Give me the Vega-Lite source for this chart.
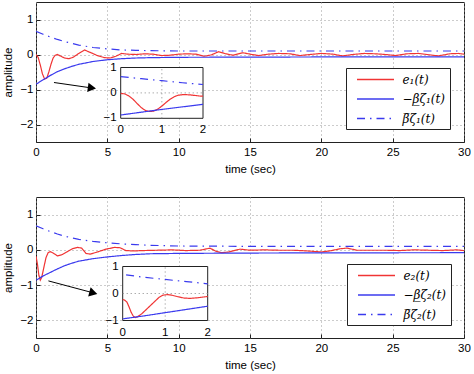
{
  "$schema": "https://vega.github.io/schema/vega-lite/v6.json",
  "padding": {"left": 2, "top": 1, "right": 0, "bottom": 0},
  "background": "white",
  "spacing": 20,
  "config": {
    "view": {"stroke": "#222", "strokeWidth": 1},
    "font": "Liberation Sans",
    "axis": {
      "labelFont": "Liberation Sans", "labelFontSize": 11.5, "labelColor": "black", "labelOverlap": false, "labelFlush": false, "labelBound": false,
      "titleFont": "Liberation Sans", "titleFontSize": 11.5, "titleFontWeight": "normal", "titleColor": "black",
      "domain": false, "ticks": true, "tickSize": -4, "tickColor": "#222",
      "grid": true, "gridColor": "#999", "gridDash": [1, 3], "gridOpacity": 1
    },
    "legend": {
      "strokeColor": "#222", "fillColor": "white", "padding": 4.5, "symbolType": "M-3,0H3", "symbolSize": 152, "symbolStrokeWidth": 1.3,
      "symbolFillColor": "transparent", "symbolOffset": 18, "labelOffset": 20, "labelFont": "DejaVu Serif", "labelFontStyle": "italic",
      "labelFontSize": 12, "labelColor": "black", "rowPadding": 6.5
    }
  },
  "datasets": {
    "main1": [
      {"t": 0, "v": 0.0, "s": "e₁(t)"}, {"t": 0.15, "v": -0.08, "s": "e₁(t)"}, {"t": 0.3, "v": -0.3, "s": "e₁(t)"}, {"t": 0.45, "v": -0.55, "s": "e₁(t)"}, {"t": 0.6, "v": -0.7, "s": "e₁(t)"}, {"t": 0.75, "v": -0.68, "s": "e₁(t)"}, {"t": 0.9, "v": -0.5, "s": "e₁(t)"}, {"t": 1.05, "v": -0.28, "s": "e₁(t)"}, {"t": 1.2, "v": -0.1, "s": "e₁(t)"}, {"t": 1.35, "v": -0.02, "s": "e₁(t)"}, {"t": 1.5, "v": 0.0, "s": "e₁(t)"}, {"t": 1.7, "v": -0.04, "s": "e₁(t)"}, {"t": 2.0, "v": -0.1, "s": "e₁(t)"}, {"t": 2.3, "v": -0.12, "s": "e₁(t)"}, {"t": 2.6, "v": -0.08, "s": "e₁(t)"}, {"t": 3.0, "v": 0.03, "s": "e₁(t)"}, {"t": 3.4, "v": 0.13, "s": "e₁(t)"}, {"t": 3.8, "v": 0.06, "s": "e₁(t)"}, {"t": 4.3, "v": -0.03, "s": "e₁(t)"}, {"t": 4.8, "v": -0.09, "s": "e₁(t)"}, {"t": 5.2, "v": -0.1, "s": "e₁(t)"}, {"t": 5.6, "v": -0.05, "s": "e₁(t)"}, {"t": 6.0, "v": 0.03, "s": "e₁(t)"}, {"t": 6.4, "v": 0.01, "s": "e₁(t)"}, {"t": 7.0, "v": 0.0, "s": "e₁(t)"}, {"t": 7.6, "v": 0.02, "s": "e₁(t)"}, {"t": 8.2, "v": 0.01, "s": "e₁(t)"}, {"t": 8.8, "v": -0.03, "s": "e₁(t)"}, {"t": 9.4, "v": -0.02, "s": "e₁(t)"}, {"t": 10.0, "v": 0.01, "s": "e₁(t)"}, {"t": 10.6, "v": 0.02, "s": "e₁(t)"}, {"t": 11.2, "v": 0.01, "s": "e₁(t)"}, {"t": 11.8, "v": -0.05, "s": "e₁(t)"}, {"t": 12.3, "v": -0.01, "s": "e₁(t)"}, {"t": 12.8, "v": 0.08, "s": "e₁(t)"}, {"t": 13.3, "v": 0.02, "s": "e₁(t)"}, {"t": 13.8, "v": -0.02, "s": "e₁(t)"}, {"t": 14.5, "v": 0.05, "s": "e₁(t)"}, {"t": 15.0, "v": 0.01, "s": "e₁(t)"}, {"t": 15.6, "v": -0.03, "s": "e₁(t)"}, {"t": 16.3, "v": 0.01, "s": "e₁(t)"}, {"t": 17.0, "v": 0.03, "s": "e₁(t)"}, {"t": 17.8, "v": 0.02, "s": "e₁(t)"}, {"t": 18.5, "v": -0.03, "s": "e₁(t)"}, {"t": 19.2, "v": 0.0, "s": "e₁(t)"}, {"t": 20.0, "v": 0.03, "s": "e₁(t)"}, {"t": 20.8, "v": 0.01, "s": "e₁(t)"}, {"t": 21.5, "v": -0.04, "s": "e₁(t)"}, {"t": 22.2, "v": 0.0, "s": "e₁(t)"}, {"t": 23.0, "v": 0.03, "s": "e₁(t)"}, {"t": 23.8, "v": 0.02, "s": "e₁(t)"}, {"t": 24.5, "v": 0.0, "s": "e₁(t)"}, {"t": 25.2, "v": -0.03, "s": "e₁(t)"}, {"t": 26.0, "v": 0.02, "s": "e₁(t)"}, {"t": 26.8, "v": 0.03, "s": "e₁(t)"}, {"t": 27.6, "v": -0.01, "s": "e₁(t)"}, {"t": 28.2, "v": -0.04, "s": "e₁(t)"}, {"t": 29.0, "v": 0.02, "s": "e₁(t)"}, {"t": 29.6, "v": 0.03, "s": "e₁(t)"}, {"t": 30, "v": 0.01, "s": "e₁(t)"},
      {"t": 0, "v": -0.85, "s": "−β̲ζ₁(t)"}, {"t": 0.5, "v": -0.72, "s": "−β̲ζ₁(t)"}, {"t": 1, "v": -0.6, "s": "−β̲ζ₁(t)"}, {"t": 1.5, "v": -0.49, "s": "−β̲ζ₁(t)"}, {"t": 2, "v": -0.41, "s": "−β̲ζ₁(t)"}, {"t": 2.5, "v": -0.34, "s": "−β̲ζ₁(t)"}, {"t": 3, "v": -0.28, "s": "−β̲ζ₁(t)"}, {"t": 4, "v": -0.2, "s": "−β̲ζ₁(t)"}, {"t": 5, "v": -0.15, "s": "−β̲ζ₁(t)"}, {"t": 6, "v": -0.12, "s": "−β̲ζ₁(t)"}, {"t": 7, "v": -0.1, "s": "−β̲ζ₁(t)"}, {"t": 8, "v": -0.09, "s": "−β̲ζ₁(t)"}, {"t": 10, "v": -0.08, "s": "−β̲ζ₁(t)"}, {"t": 15, "v": -0.075, "s": "−β̲ζ₁(t)"}, {"t": 20, "v": -0.07, "s": "−β̲ζ₁(t)"}, {"t": 30, "v": -0.07, "s": "−β̲ζ₁(t)"},
      {"t": 0, "v": 0.66, "s": "β̅ζ₁(t)"}, {"t": 0.5, "v": 0.58, "s": "β̅ζ₁(t)"}, {"t": 1, "v": 0.5, "s": "β̅ζ₁(t)"}, {"t": 1.5, "v": 0.43, "s": "β̅ζ₁(t)"}, {"t": 2, "v": 0.37, "s": "β̅ζ₁(t)"}, {"t": 2.5, "v": 0.32, "s": "β̅ζ₁(t)"}, {"t": 3, "v": 0.27, "s": "β̅ζ₁(t)"}, {"t": 4, "v": 0.2, "s": "β̅ζ₁(t)"}, {"t": 5, "v": 0.16, "s": "β̅ζ₁(t)"}, {"t": 6, "v": 0.13, "s": "β̅ζ₁(t)"}, {"t": 7, "v": 0.12, "s": "β̅ζ₁(t)"}, {"t": 8, "v": 0.11, "s": "β̅ζ₁(t)"}, {"t": 10, "v": 0.1, "s": "β̅ζ₁(t)"}, {"t": 15, "v": 0.1, "s": "β̅ζ₁(t)"}, {"t": 30, "v": 0.1, "s": "β̅ζ₁(t)"}
    ],
    "inset1": [
      {"t": 0, "v": -0.02, "s": "e₁(t)"}, {"t": 0.1, "v": -0.04, "s": "e₁(t)"}, {"t": 0.2, "v": -0.12, "s": "e₁(t)"}, {"t": 0.3, "v": -0.25, "s": "e₁(t)"}, {"t": 0.4, "v": -0.42, "s": "e₁(t)"}, {"t": 0.5, "v": -0.58, "s": "e₁(t)"}, {"t": 0.6, "v": -0.69, "s": "e₁(t)"}, {"t": 0.7, "v": -0.73, "s": "e₁(t)"}, {"t": 0.8, "v": -0.72, "s": "e₁(t)"}, {"t": 0.9, "v": -0.64, "s": "e₁(t)"}, {"t": 1.0, "v": -0.52, "s": "e₁(t)"}, {"t": 1.1, "v": -0.38, "s": "e₁(t)"}, {"t": 1.2, "v": -0.25, "s": "e₁(t)"}, {"t": 1.3, "v": -0.15, "s": "e₁(t)"}, {"t": 1.4, "v": -0.09, "s": "e₁(t)"}, {"t": 1.5, "v": -0.07, "s": "e₁(t)"}, {"t": 1.6, "v": -0.07, "s": "e₁(t)"}, {"t": 1.7, "v": -0.08, "s": "e₁(t)"}, {"t": 1.8, "v": -0.1, "s": "e₁(t)"}, {"t": 1.9, "v": -0.12, "s": "e₁(t)"}, {"t": 2.0, "v": -0.13, "s": "e₁(t)"},
      {"t": 0, "v": -0.87, "s": "−β̲ζ₁(t)"}, {"t": 0.5, "v": -0.76, "s": "−β̲ζ₁(t)"}, {"t": 1, "v": -0.65, "s": "−β̲ζ₁(t)"}, {"t": 1.5, "v": -0.55, "s": "−β̲ζ₁(t)"}, {"t": 2, "v": -0.45, "s": "−β̲ζ₁(t)"},
      {"t": 0, "v": 0.64, "s": "β̅ζ₁(t)"}, {"t": 0.5, "v": 0.56, "s": "β̅ζ₁(t)"}, {"t": 1, "v": 0.48, "s": "β̅ζ₁(t)"}, {"t": 1.5, "v": 0.4, "s": "β̅ζ₁(t)"}, {"t": 2, "v": 0.33, "s": "β̅ζ₁(t)"}
    ],
    "main2": [
      {"t": 0, "v": -0.18, "s": "e₂(t)"}, {"t": 0.1, "v": -0.4, "s": "e₂(t)"}, {"t": 0.2, "v": -0.72, "s": "e₂(t)"}, {"t": 0.3, "v": -0.86, "s": "e₂(t)"}, {"t": 0.4, "v": -0.78, "s": "e₂(t)"}, {"t": 0.55, "v": -0.5, "s": "e₂(t)"}, {"t": 0.7, "v": -0.22, "s": "e₂(t)"}, {"t": 0.85, "v": -0.08, "s": "e₂(t)"}, {"t": 1.0, "v": -0.05, "s": "e₂(t)"}, {"t": 1.2, "v": -0.09, "s": "e₂(t)"}, {"t": 1.5, "v": -0.17, "s": "e₂(t)"}, {"t": 1.8, "v": -0.14, "s": "e₂(t)"}, {"t": 2.2, "v": -0.05, "s": "e₂(t)"}, {"t": 2.6, "v": 0.04, "s": "e₂(t)"}, {"t": 2.9, "v": 0.07, "s": "e₂(t)"}, {"t": 3.2, "v": 0.05, "s": "e₂(t)"}, {"t": 3.5, "v": -0.1, "s": "e₂(t)"}, {"t": 3.8, "v": -0.12, "s": "e₂(t)"}, {"t": 4.3, "v": -0.06, "s": "e₂(t)"}, {"t": 4.9, "v": 0.02, "s": "e₂(t)"}, {"t": 5.5, "v": 0.07, "s": "e₂(t)"}, {"t": 5.9, "v": 0.06, "s": "e₂(t)"}, {"t": 6.3, "v": -0.02, "s": "e₂(t)"}, {"t": 6.8, "v": -0.03, "s": "e₂(t)"}, {"t": 7.5, "v": -0.02, "s": "e₂(t)"}, {"t": 8.5, "v": -0.01, "s": "e₂(t)"}, {"t": 9.5, "v": 0.0, "s": "e₂(t)"}, {"t": 10.5, "v": -0.02, "s": "e₂(t)"}, {"t": 11.5, "v": -0.01, "s": "e₂(t)"}, {"t": 12.2, "v": 0.05, "s": "e₂(t)"}, {"t": 12.6, "v": -0.04, "s": "e₂(t)"}, {"t": 13.0, "v": -0.08, "s": "e₂(t)"}, {"t": 13.5, "v": -0.06, "s": "e₂(t)"}, {"t": 14.3, "v": 0.02, "s": "e₂(t)"}, {"t": 15.0, "v": -0.01, "s": "e₂(t)"}, {"t": 16.0, "v": 0.0, "s": "e₂(t)"}, {"t": 17.0, "v": -0.01, "s": "e₂(t)"}, {"t": 18.0, "v": -0.01, "s": "e₂(t)"}, {"t": 19.0, "v": -0.03, "s": "e₂(t)"}, {"t": 20.0, "v": -0.06, "s": "e₂(t)"}, {"t": 20.6, "v": -0.03, "s": "e₂(t)"}, {"t": 21.3, "v": 0.03, "s": "e₂(t)"}, {"t": 21.8, "v": 0.05, "s": "e₂(t)"}, {"t": 22.5, "v": -0.01, "s": "e₂(t)"}, {"t": 23.5, "v": -0.01, "s": "e₂(t)"}, {"t": 24.5, "v": -0.01, "s": "e₂(t)"}, {"t": 25.5, "v": -0.02, "s": "e₂(t)"}, {"t": 26.5, "v": 0.0, "s": "e₂(t)"}, {"t": 27.5, "v": -0.01, "s": "e₂(t)"}, {"t": 28.5, "v": -0.02, "s": "e₂(t)"}, {"t": 29.5, "v": 0.0, "s": "e₂(t)"}, {"t": 30, "v": -0.02, "s": "e₂(t)"},
      {"t": 0, "v": -0.86, "s": "−β̲ζ₂(t)"}, {"t": 0.5, "v": -0.74, "s": "−β̲ζ₂(t)"}, {"t": 1, "v": -0.64, "s": "−β̲ζ₂(t)"}, {"t": 1.5, "v": -0.54, "s": "−β̲ζ₂(t)"}, {"t": 2, "v": -0.45, "s": "−β̲ζ₂(t)"}, {"t": 2.5, "v": -0.38, "s": "−β̲ζ₂(t)"}, {"t": 3, "v": -0.32, "s": "−β̲ζ₂(t)"}, {"t": 4, "v": -0.25, "s": "−β̲ζ₂(t)"}, {"t": 5, "v": -0.2, "s": "−β̲ζ₂(t)"}, {"t": 6, "v": -0.16, "s": "−β̲ζ₂(t)"}, {"t": 7, "v": -0.13, "s": "−β̲ζ₂(t)"}, {"t": 8, "v": -0.11, "s": "−β̲ζ₂(t)"}, {"t": 10, "v": -0.1, "s": "−β̲ζ₂(t)"}, {"t": 15, "v": -0.09, "s": "−β̲ζ₂(t)"}, {"t": 20, "v": -0.085, "s": "−β̲ζ₂(t)"}, {"t": 30, "v": -0.08, "s": "−β̲ζ₂(t)"},
      {"t": 0, "v": 0.68, "s": "β̅ζ₂(t)"}, {"t": 0.5, "v": 0.6, "s": "β̅ζ₂(t)"}, {"t": 1, "v": 0.52, "s": "β̅ζ₂(t)"}, {"t": 1.5, "v": 0.45, "s": "β̅ζ₂(t)"}, {"t": 2, "v": 0.39, "s": "β̅ζ₂(t)"}, {"t": 2.5, "v": 0.34, "s": "β̅ζ₂(t)"}, {"t": 3, "v": 0.3, "s": "β̅ζ₂(t)"}, {"t": 4, "v": 0.24, "s": "β̅ζ₂(t)"}, {"t": 5, "v": 0.2, "s": "β̅ζ₂(t)"}, {"t": 6, "v": 0.17, "s": "β̅ζ₂(t)"}, {"t": 7, "v": 0.15, "s": "β̅ζ₂(t)"}, {"t": 8, "v": 0.13, "s": "β̅ζ₂(t)"}, {"t": 10, "v": 0.11, "s": "β̅ζ₂(t)"}, {"t": 15, "v": 0.1, "s": "β̅ζ₂(t)"}, {"t": 30, "v": 0.1, "s": "β̅ζ₂(t)"}
    ],
    "inset2": [
      {"t": 0, "v": -0.22, "s": "e₂(t)"}, {"t": 0.05, "v": -0.25, "s": "e₂(t)"}, {"t": 0.1, "v": -0.32, "s": "e₂(t)"}, {"t": 0.15, "v": -0.5, "s": "e₂(t)"}, {"t": 0.2, "v": -0.7, "s": "e₂(t)"}, {"t": 0.25, "v": -0.84, "s": "e₂(t)"}, {"t": 0.3, "v": -0.89, "s": "e₂(t)"}, {"t": 0.35, "v": -0.86, "s": "e₂(t)"}, {"t": 0.45, "v": -0.75, "s": "e₂(t)"}, {"t": 0.55, "v": -0.6, "s": "e₂(t)"}, {"t": 0.65, "v": -0.45, "s": "e₂(t)"}, {"t": 0.75, "v": -0.3, "s": "e₂(t)"}, {"t": 0.85, "v": -0.15, "s": "e₂(t)"}, {"t": 0.95, "v": -0.06, "s": "e₂(t)"}, {"t": 1.05, "v": -0.04, "s": "e₂(t)"}, {"t": 1.15, "v": -0.06, "s": "e₂(t)"}, {"t": 1.3, "v": -0.12, "s": "e₂(t)"}, {"t": 1.45, "v": -0.17, "s": "e₂(t)"}, {"t": 1.6, "v": -0.18, "s": "e₂(t)"}, {"t": 1.75, "v": -0.16, "s": "e₂(t)"}, {"t": 1.9, "v": -0.13, "s": "e₂(t)"}, {"t": 2.0, "v": -0.11, "s": "e₂(t)"},
      {"t": 0, "v": -0.94, "s": "−β̲ζ₂(t)"}, {"t": 0.5, "v": -0.83, "s": "−β̲ζ₂(t)"}, {"t": 1, "v": -0.71, "s": "−β̲ζ₂(t)"}, {"t": 1.5, "v": -0.59, "s": "−β̲ζ₂(t)"}, {"t": 2, "v": -0.47, "s": "−β̲ζ₂(t)"},
      {"t": 0.08, "v": 0.69, "s": "β̅ζ₂(t)"}, {"t": 0.5, "v": 0.6, "s": "β̅ζ₂(t)"}, {"t": 1, "v": 0.52, "s": "β̅ζ₂(t)"}, {"t": 1.5, "v": 0.44, "s": "β̅ζ₂(t)"}, {"t": 2, "v": 0.36, "s": "β̅ζ₂(t)"}
    ],
    "arrow1": [{"x1": 1.26, "y1": -0.8, "x2": 3.92, "y2": -0.957}],
    "arrow2": [{"x1": 0.87, "y1": -0.88, "x2": 4.02, "y2": -1.22}],
    "box": [{"x": 0, "x2": 2, "y": -1, "y2": 1}],
    "igrid": [{"x": 1, "x2": 1, "y": -1, "y2": 1}, {"x": 0, "x2": 2, "y": 0, "y2": 0}],
    "ixlab": [{"x": 0, "y": -1, "label": "0"}, {"x": 1, "y": -1, "label": "1"}, {"x": 2, "y": -1, "label": "2"}],
    "iylab": [{"x": 0, "y": -1, "label": "−1"}, {"x": 0, "y": 0, "label": "0"}, {"x": 0, "y": 1, "label": "1"}]
  },
  "resolve": {"scale": {"color": "independent", "strokeDash": "independent"}},
  "vconcat": [
    {
      "width": 428, "height": 140,
      "resolve": {"scale": {"x": "independent", "y": "independent"}},
      "layer": [
        {
          "layer": [
            {
              "data": {"name": "main1"},
              "mark": {"type": "line", "strokeWidth": 1.2, "clip": true},
              "encoding": {
                "x": {"field": "t", "type": "quantitative", "scale": {"domain": [0, 30], "nice": false},
                      "axis": {"values": [0, 5, 10, 15, 20, 25, 30], "title": "time (sec)", "labelPadding": 8, "titlePadding": 6, "labelOverlap": false}},
                "y": {"field": "v", "type": "quantitative", "scale": {"domain": [-2.5, 1.5], "nice": false},
                      "axis": {"values": [-2, -1, 0, 1], "title": "amplitude", "labelPadding": 7, "titlePadding": 6, "labelOverlap": false}},
                "color": {"field": "s", "type": "nominal",
                          "scale": {"domain": ["e₁(t)", "−β̲ζ₁(t)", "β̅ζ₁(t)"], "range": ["#f03434", "#3a3aee", "#3a3aee"]},
                          "legend": {"orient": "none", "legendX": 310, "legendY": 66, "title": null}},
                "strokeDash": {"field": "s", "type": "nominal",
                          "scale": {"domain": ["e₁(t)", "−β̲ζ₁(t)", "β̅ζ₁(t)"], "range": [[1, 0], [1, 0], [8, 5, 1.5, 5]]},
                          "legend": {"orient": "none", "legendX": 310, "legendY": 66, "title": null}}
              }
            },
            {
              "data": {"name": "arrow1"},
              "mark": {"type": "rule", "color": "black", "strokeWidth": 1},
              "encoding": {"x": {"field": "x1", "type": "quantitative"}, "y": {"field": "y1", "type": "quantitative"}, "x2": {"field": "x2"}, "y2": {"field": "y2"}}
            },
            {
              "data": {"name": "arrow1"},
              "mark": {"type": "point", "shape": "triangle-right", "filled": true, "color": "black", "opacity": 1, "size": 90, "angle": 8},
              "encoding": {"x": {"field": "x2", "type": "quantitative"}, "y": {"field": "y2", "type": "quantitative"}}
            }
          ]
        },
        {
          "layer": [
            {
              "data": {"name": "box"},
              "mark": {"type": "rect", "fill": "white", "stroke": "#222", "strokeWidth": 1},
              "encoding": {
                "x": {"field": "x", "type": "quantitative", "scale": {"domain": [0, 2], "range": [84.7, 167], "nice": false}, "axis": null},
                "x2": {"field": "x2"},
                "y": {"field": "y", "type": "quantitative", "scale": {"domain": [-1, 1], "range": [116.3, 65.5], "nice": false}, "axis": null},
                "y2": {"field": "y2"}
              }
            },
            {
              "data": {"name": "igrid"},
              "mark": {"type": "rule", "color": "#888", "strokeDash": [1, 3], "strokeWidth": 1},
              "encoding": {"x": {"field": "x", "type": "quantitative"}, "x2": {"field": "x2"}, "y": {"field": "y", "type": "quantitative"}, "y2": {"field": "y2"}}
            },
            {
              "data": {"name": "ixlab"},
              "mark": {"type": "text", "font": "Liberation Sans", "fontSize": 11.5, "color": "black", "baseline": "top", "align": "center", "dy": 6},
              "encoding": {"x": {"field": "x", "type": "quantitative"}, "y": {"field": "y", "type": "quantitative"}, "text": {"field": "label"}}
            },
            {
              "data": {"name": "iylab"},
              "mark": {"type": "text", "font": "Liberation Sans", "fontSize": 11.5, "color": "black", "baseline": "middle", "align": "right", "dx": -4},
              "encoding": {"x": {"field": "x", "type": "quantitative"}, "y": {"field": "y", "type": "quantitative"}, "text": {"field": "label"}}
            },
            {
              "data": {"name": "inset1"},
              "mark": {"type": "line", "strokeWidth": 1.2},
              "encoding": {
                "x": {"field": "t", "type": "quantitative"},
                "y": {"field": "v", "type": "quantitative"},
                "color": {"field": "s", "type": "nominal"},
                "strokeDash": {"field": "s", "type": "nominal"}
              }
            }
          ]
        }
      ]
    },
    {
      "width": 428, "height": 141,
      "resolve": {"scale": {"x": "independent", "y": "independent"}},
      "layer": [
        {
          "layer": [
            {
              "data": {"name": "main2"},
              "mark": {"type": "line", "strokeWidth": 1.2, "clip": true},
              "encoding": {
                "x": {"field": "t", "type": "quantitative", "scale": {"domain": [0, 30], "nice": false},
                      "axis": {"values": [0, 5, 10, 15, 20, 25, 30], "title": "time (sec)", "labelPadding": 8, "titlePadding": 6, "labelOverlap": false}},
                "y": {"field": "v", "type": "quantitative", "scale": {"domain": [-2.5, 1.5], "nice": false},
                      "axis": {"values": [-2, -1, 0, 1], "title": "amplitude", "labelPadding": 7, "titlePadding": 6, "labelOverlap": false}},
                "color": {"field": "s", "type": "nominal",
                          "scale": {"domain": ["e₂(t)", "−β̲ζ₂(t)", "β̅ζ₂(t)"], "range": ["#f03434", "#3a3aee", "#3a3aee"]},
                          "legend": {"orient": "none", "legendX": 311, "legendY": 67, "title": null}},
                "strokeDash": {"field": "s", "type": "nominal",
                          "scale": {"domain": ["e₂(t)", "−β̲ζ₂(t)", "β̅ζ₂(t)"], "range": [[1, 0], [1, 0], [8, 5, 1.5, 5]]},
                          "legend": {"orient": "none", "legendX": 311, "legendY": 67, "title": null}}
              }
            },
            {
              "data": {"name": "arrow2"},
              "mark": {"type": "rule", "color": "black", "strokeWidth": 1},
              "encoding": {"x": {"field": "x1", "type": "quantitative"}, "y": {"field": "y1", "type": "quantitative"}, "x2": {"field": "x2"}, "y2": {"field": "y2"}}
            },
            {
              "data": {"name": "arrow2"},
              "mark": {"type": "point", "shape": "triangle-right", "filled": true, "color": "black", "opacity": 1, "size": 90, "angle": 15},
              "encoding": {"x": {"field": "x2", "type": "quantitative"}, "y": {"field": "y2", "type": "quantitative"}}
            }
          ]
        },
        {
          "layer": [
            {
              "data": {"name": "box"},
              "mark": {"type": "rect", "fill": "white", "stroke": "#222", "strokeWidth": 1},
              "encoding": {
                "x": {"field": "x", "type": "quantitative", "scale": {"domain": [0, 2], "range": [86.7, 171.7], "nice": false}, "axis": null},
                "x2": {"field": "x2"},
                "y": {"field": "y", "type": "quantitative", "scale": {"domain": [-1, 1], "range": [123.5, 69.5], "nice": false}, "axis": null},
                "y2": {"field": "y2"}
              }
            },
            {
              "data": {"name": "igrid"},
              "mark": {"type": "rule", "color": "#888", "strokeDash": [1, 3], "strokeWidth": 1},
              "encoding": {"x": {"field": "x", "type": "quantitative"}, "x2": {"field": "x2"}, "y": {"field": "y", "type": "quantitative"}, "y2": {"field": "y2"}}
            },
            {
              "data": {"name": "ixlab"},
              "mark": {"type": "text", "font": "Liberation Sans", "fontSize": 11.5, "color": "black", "baseline": "top", "align": "center", "dy": 6},
              "encoding": {"x": {"field": "x", "type": "quantitative"}, "y": {"field": "y", "type": "quantitative"}, "text": {"field": "label"}}
            },
            {
              "data": {"name": "iylab"},
              "mark": {"type": "text", "font": "Liberation Sans", "fontSize": 11.5, "color": "black", "baseline": "middle", "align": "right", "dx": -4},
              "encoding": {"x": {"field": "x", "type": "quantitative"}, "y": {"field": "y", "type": "quantitative"}, "text": {"field": "label"}}
            },
            {
              "data": {"name": "inset2"},
              "mark": {"type": "line", "strokeWidth": 1.2},
              "encoding": {
                "x": {"field": "t", "type": "quantitative"},
                "y": {"field": "v", "type": "quantitative"},
                "color": {"field": "s", "type": "nominal"},
                "strokeDash": {"field": "s", "type": "nominal"}
              }
            }
          ]
        }
      ]
    }
  ]
}
